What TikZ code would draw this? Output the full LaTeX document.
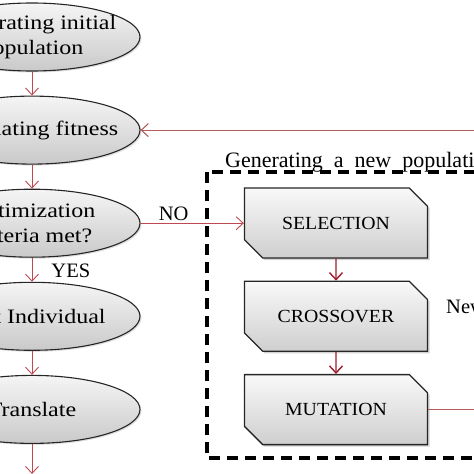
\documentclass[tikz,border=0pt]{standalone}
\usepackage{fontspec}
\setmainfont{Liberation Serif}
\newfontfamily\wideserif[FakeStretch=1.17]{Liberation Serif}
\newfontfamily\boxserif[FakeStretch=1.07]{Liberation Serif}
\usetikzlibrary{positioning}
\usetikzlibrary{arrows.meta,shapes.geometric,shapes.misc,shadows}
\usepackage{color}
\definecolor{linkred}{RGB}{192,72,80}
\definecolor{deepred}{RGB}{158,28,44}
\definecolor{loopred}{RGB}{182,92,92}

\begin{document}
\begin{tikzpicture}
[x=1pt, y=-1pt, >={Straight Barb[length=7pt,width=13pt]},
 stage/.style={ellipse, draw=black!85, line width=1.1pt, minimum width=216pt, minimum height=68pt,
   inner xsep=-10pt, inner ysep=0pt, align=center, top color=gray!8, bottom color=gray!42,
   drop shadow={opacity=0.25, shadow xshift=1.5pt, shadow yshift=-1.5pt},
   font=\wideserif\fontsize{20.5}{25}\selectfont},
 op/.style={chamfered rectangle, chamfered rectangle corners={north east, south west},
   chamfered rectangle xsep=14pt, chamfered rectangle ysep=12pt,
   draw=black!85, line width=1.3pt, minimum width=183pt, minimum height=70pt, inner sep=0pt,
   top color=gray!5, bottom color=gray!38,
   drop shadow={opacity=0.35, shadow xshift=2pt, shadow yshift=-2pt},
   font=\boxserif\fontsize{18.5}{22}\selectfont},
 flow/.style={draw=linkred, line width=0.9pt},
 label/.style={font=\fontsize{20.5}{24}\selectfont, inner sep=2pt}]

\useasboundingbox (0,0) rectangle (474,474);
\clip (0,0) rectangle (474,474);

% Main flow (left column):
\node[stage] (init) at (32,37) {Generating initial\\population};
\node[stage, below=24pt of init] (fit)   {Evaluating fitness};
\node[stage, below=24pt of fit]  (opt)   {Optimization\\criteria met?};
\node[stage, below=24pt of opt]  (best)  {Best Individual};
\node[stage, below=24pt of best] (trans) {Translate};
\coordinate (exit) at (32,474);

% Frame round the new population:
\draw[line width=3.2pt, dash pattern=on 11pt off 7pt] (207,172) rectangle (640,458);
\node[label, anchor=base west, inner sep=0pt, font={\fontsize{22}{24}\selectfont\spaceskip=11pt}]
  (framelbl) at (225,167) {Generating a new population};

% Operators:
\node[op] (sel)   at (336,223)          {SELECTION};
\node[op, below=22pt of sel]   (cross) {CROSSOVER};
\node[op, below=22pt of cross] (mut)   {MUTATION};
\node[label, anchor=base west, inner sep=0pt] (newlbl) at (446,313) {New population};
\coordinate (loop) at (600,300);

% Connectors:
\draw[flow,->] (init) -- (fit);
\draw[flow,->] (fit)  -- (opt);
\draw[flow,->] (opt)  -- node[label, right=17pt, pos=0.55] (yes) {YES} (best);
\draw[flow,->] (best) -- (trans);
\draw[flow,->] (trans) -- (exit);
\draw[flow,->] (opt.east) -- node[label, above, pos=0.32] (no) {NO} (opt.east -| sel.west);
\draw[draw=deepred, line width=1.4pt, ->] (sel)   -- (cross);
\draw[draw=deepred, line width=1.4pt, ->] (cross) -- (mut);
\draw[draw=loopred, line width=1.1pt, ->] (mut.east) -| (loop) |- (fit.east);

\end{tikzpicture}
\end{document}
